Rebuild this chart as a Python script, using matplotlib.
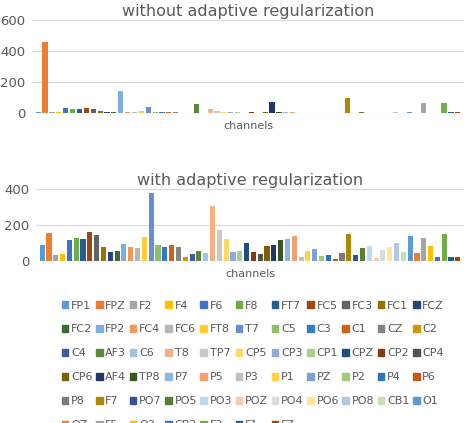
import matplotlib
matplotlib.use("Agg")
import matplotlib.pyplot as plt
from matplotlib.patches import Patch

channels = ["FP1","FPZ","F2","F4","F6","F8","FT7","FC5","FC3","FC1","FCZ",
            "FC2","FP2","FC4","FC6","FT8","T7","C5","C3","C1","CZ","C2",
            "C4","AF3","C6","T8","TP7","CP5","CP3","CP1","CPZ","CP2","CP4",
            "CP6","AF4","TP8","P7","P5","P3","P1","PZ","P2","P4","P6",
            "P8","F7","PO7","PO5","PO3","POZ","PO4","PO6","PO8","CB1","O1",
            "OZ","F5","O2","CB2","F3","F1","FZ"]
without_reg = [5,460,5,5,30,28,25,32,28,12,8,8,145,8,5,10,38,5,5,8,5,2,
               2,58,3,28,14,6,5,4,3,6,2,5,68,5,5,6,2,2,3,2,1,1,1,95,1,4,3,1,
               1,2,4,1,6,2,65,2,1,65,6,5]
with_reg = [88,155,35,38,118,128,122,160,145,78,50,55,95,78,72,135,380,88,80,90,77,25,
            40,58,45,305,175,120,50,58,100,50,38,85,90,118,122,140,22,55,65,30,33,12,
            45,150,35,70,85,15,62,78,102,52,140,42,128,82,22,150,20,22]
colors = ["#5B9BD5","#ED7D31","#A5A5A5","#FFC000","#4472C4","#70AD47","#255E91","#9E480E",
          "#636363","#997300","#264478","#43682B","#7CAFDD","#F1975A","#B7B7B7","#FFCD33",
          "#698ED0","#8CC168","#327DC2","#D26012","#848484","#CC9A00","#3A5DA0","#5A8A39",
          "#9DC3E6","#F4B183","#C9C9C9","#FFD966","#8FAADC","#A9D18E","#1F4E79","#843C0C",
          "#525252","#7F6000","#203864","#385723","#8FB8E0","#F4A170","#C0C0C0","#FFD23F",
          "#7F9FD8","#9CCB7C","#2E75B6","#C55A11","#7B7B7B","#B08700","#2F5597","#548235",
          "#BDD7EE","#F8CBAD","#DBDBDB","#FFE699","#B4C7E7","#C5E0B4","#5B9BD5","#ED7D31",
          "#A5A5A5","#FFC000","#4472C4","#70AD47","#255E91","#9E480E"]

W, H = 474, 423
fig = plt.figure(figsize=(W/100, H/100), dpi=100)
gray = "#595959"

def panel(rect, vals, ymax, ticks, title):
    ax = fig.add_axes(rect)
    x = list(range(len(vals)))
    ax.bar(x, vals, width=0.75, color=colors)
    ax.set_xlim(-0.9, len(vals) - 0.1)
    ax.set_ylim(0, ymax)
    ax.set_yticks(ticks)
    ax.set_xticks([])
    for s in ax.spines.values():
        s.set_visible(False)
    ax.grid(axis="y", color="#D9D9D9", lw=0.8)
    ax.set_axisbelow(True)
    ax.tick_params(axis="y", length=0, labelsize=9.5, labelcolor=gray, pad=5)
    ax.set_title(title, fontsize=11.5, color=gray, pad=3)
    ax.set_xlabel("channels", fontsize=8, color=gray, labelpad=6)
    return ax

panel([32/W, 1 - 113/H, 432/W, 93/H], without_reg, 600, [0, 200, 400, 600],
      "without adaptive regularization")
panel([36/W, 1 - 261/H, 428/W, 72/H], with_reg, 400, [0, 200, 400],
      "with adaptive regularization")

ncol = 11
handles = [Patch(color=c, label=n) for c, n in zip(colors, channels)]
ordered = [handles[i] for j in range(ncol) for i in range(j, len(handles), ncol)]
fig.legend(handles=ordered, ncol=ncol, loc="upper left", bbox_to_anchor=(56/W, 1 - 295/H),
           frameon=False, fontsize=8, handlelength=0.6, handleheight=0.6,
           handletextpad=0.25, columnspacing=0.3, labelspacing=1.25,
           labelcolor=gray, borderpad=0)
fig.savefig("out.png", dpi=100)
